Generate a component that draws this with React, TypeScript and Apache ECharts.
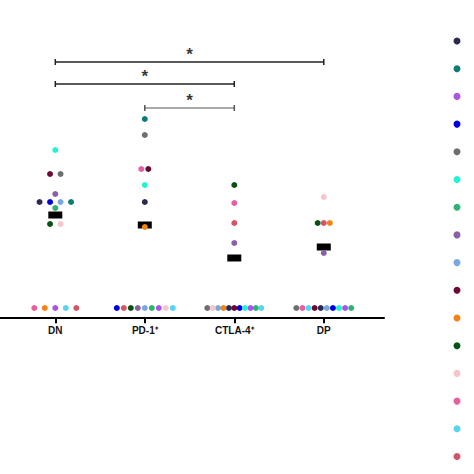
import React, { useEffect, useRef } from "react";
import * as echarts from "echarts";

// T-cell subsets on the x axis
const categories = ["DN", "PD-1⁺", "CTLA-4⁺", "DP"];

// one entry per donor, same order as the legend
const subjectNames = [
  "S1", "S2", "S3", "S4", "S5", "S6", "S7", "S8",
  "S9", "S10", "S11", "S12", "S13", "S14", "S15", "S16",
];
const subjectColors = [
  "#2a2a55", "#0e7b78", "#a855e8", "#0000e6", "#6e6e6e", "#1ff5d5",
  "#2db374", "#8a5fa8", "#78a8de", "#6b0833", "#f28314", "#0a5214",
  "#f5c6cc", "#e85fa0", "#55d5f0", "#d35565",
];

// values per subset, in donor order (null = not measured)
const dnValues = [5.3, 5.3, 0, 5.3, 6.7, 7.9, 5.0, 5.7, 5.3, 6.7, 0, 4.2, 4.2, 0, 0, 0];
const pd1Values = [5.3, 9.45, 0, 0, 8.65, 6.15, 0, 0, 0, 6.95, 4.05, 0, 0, 6.95, 0, 0];
const ctla4Values = [0, null, 0, 0, 0, 0, 0, 3.25, 0, 0, 0, 6.15, 0, 5.25, 0, 4.25];
const dpValues = [0, null, 0, 0, 0, 0, 0, 2.75, 0, 0, 4.25, 4.25, 5.55, 0, 0, 4.25];

// left-to-right order of donors when values tie
const dnOrder = [9, 4, 0, 3, 8, 1, 11, 12, 13, 10, 2, 14, 15, 5, 6, 7];
const pd1Order = [13, 9, 3, 15, 11, 7, 8, 6, 2, 12, 14, 0, 1, 4, 5, 10];
const ctla4Order = [4, 12, 8, 10, 0, 9, 3, 5, 2, 6, 14, 7, 11, 13, 15];
const dpOrder = [11, 15, 10, 4, 13, 14, 9, 0, 8, 3, 5, 2, 6, 7, 12];

const medians = [4.65, 4.15, 2.5, 3.05];

// significance brackets
const bracketFrom = [0, 0, 1];
const bracketTo = [3, 2, 2];
const bracketLevels = [12.3, 11.2, 10.0];
const bracketLabels = ["*", "*", "*"];

const X_MIN = -0.618;
const X_MAX = 3.673;
const Y_MIN = -0.465;
const Y_MAX = 15.4;
const GRID_W = 384;
const PX_PER_UNIT = GRID_W / (X_MAX - X_MIN);
const spreadPx = [10.5, 7, 5.4, 6.1];

const buildPoints = () => {
  const groups = [dnValues, pd1Values, ctla4Values, dpValues];
  const orders = [dnOrder, pd1Order, ctla4Order, dpOrder];
  const points: [number, number][][] = subjectNames.map(() => []);
  groups.forEach((vals, c) => {
    const rows = new Map<number, number[]>();
    orders[c].forEach((s) => {
      const v = vals[s];
      if (v == null) return;
      if (!rows.has(v)) rows.set(v, []);
      rows.get(v)!.push(s);
    });
    const step = spreadPx[c] / PX_PER_UNIT;
    rows.forEach((members, v) => {
      members.forEach((s, k) => {
        points[s].push([c + (k - (members.length - 1) / 2) * step, v]);
      });
    });
  });
  return points;
};

const App: React.FC = () => {
  const chartRef = useRef<HTMLDivElement>(null);

  useEffect(() => {
    if (!chartRef.current) return;
    const chart = echarts.init(chartRef.current, undefined, { renderer: "svg" });
    const points = buildPoints();

    const subjectSeries = subjectNames.map((name, i) => ({
      name,
      type: "scatter" as const,
      data: points[i],
      symbol: "circle",
      symbolSize: 6,
      itemStyle: { color: subjectColors[i], opacity: 1 },
      z: 3,
    }));

    const bracketSeries = bracketLevels.map((lvl, i) => ({
      type: "line" as const,
      data: [
        [bracketFrom[i], lvl],
        [bracketTo[i], lvl],
      ],
      symbol: "rect",
      symbolSize: [1.5, 6],
      itemStyle: { color: i === 2 ? "#555" : "#222", opacity: 1 },
      lineStyle: { color: i === 2 ? "#555" : "#222", width: i === 2 ? 1 : 1.5 },
      silent: true,
      z: 2,
    }));

    const option: echarts.EChartsOption = {
      animation: false,
      backgroundColor: "#ffffff",
      textStyle: { fontFamily: "Liberation Sans, Arial, sans-serif" },
      grid: { left: 0, top: 0, width: GRID_W, bottom: 474 - 317.3 },
      legend: {
        data: subjectNames,
        orient: "vertical",
        left: 448.5,
        top: 32.5,
        itemWidth: 7,
        itemHeight: 7,
        itemGap: 20.7,
        icon: "circle",
        formatter: () => "",
        textStyle: { fontSize: 7, lineHeight: 7 },
        selectedMode: false,
      },
      xAxis: {
        type: "value",
        min: X_MIN,
        max: X_MAX,
        splitLine: { show: false },
        axisLine: { onZero: false, lineStyle: { color: "#000", width: 2 } },
        axisTick: {
          customValues: [0, 1, 2, 3],
          length: 6,
          lineStyle: { color: "#000", width: 2 },
        },
        axisLabel: {
          customValues: [0, 1, 2, 3],
          formatter: (v: number) => categories[Math.round(v)] ?? "",
          margin: 8,
          fontSize: 10,
          fontWeight: "bold",
          color: "#111",
        },
      },
      yAxis: {
        type: "value",
        min: Y_MIN,
        max: Y_MAX,
        show: false,
      },
      series: [
        {
          type: "scatter",
          data: medians.map((m, i) => [i, m]),
          symbol: "rect",
          symbolSize: [14, 7],
          itemStyle: { color: "#000", opacity: 1 },
          silent: true,
          z: 2,
        },
        ...subjectSeries,
        ...bracketSeries,
        {
          type: "scatter",
          data: bracketLevels.map((lvl, i) => [(bracketFrom[i] + bracketTo[i]) / 2, lvl + 0.36]),
          symbolSize: 0,
          silent: true,
          label: {
            show: true,
            position: "inside",
            formatter: (p: any) => bracketLabels[p.dataIndex],
            fontSize: 17,
            fontWeight: "bold",
            color: "#000",
          },
          z: 4,
        },
      ],
    };

    chart.setOption(option);
    return () => {
      chart.dispose();
    };
  }, []);

  return (
    <div
      ref={chartRef}
      style={{ position: "fixed", left: 0, top: 0, width: 474, height: 474 }}
    />
  );
};

export default App;
